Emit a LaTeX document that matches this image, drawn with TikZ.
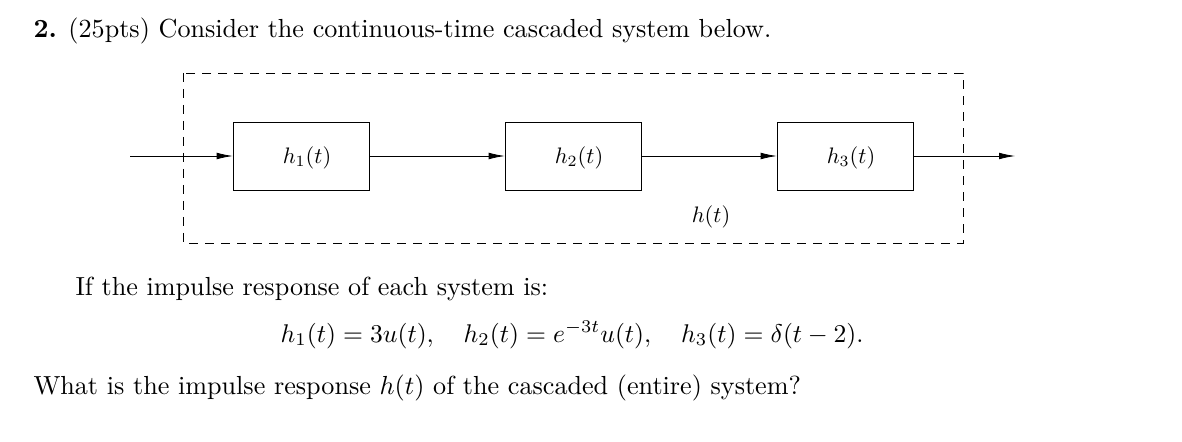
\documentclass[tikz,border=0pt]{standalone}
\usetikzlibrary{arrows.meta}
\begin{document}
\begin{tikzpicture}[x=0.75pt,y=-0.75pt,
  blk/.style={draw,minimum width=136*0.75pt,minimum height=68*0.75pt,inner sep=0pt},
  lbl/.style={inner sep=0pt,scale=1.68},
  txt/.style={anchor=base west,inner sep=0pt,scale=1.96},
  sig/.style={-{Latex[length=12pt,width=5pt]},line width=0.6pt}]
\useasboundingbox (0,0) rectangle (1182,442);
\node[txt] (title) at (33,38) {\textbf{2.} (25pts) Consider the continuous-time cascaded system below.};
\draw[dash pattern=on 7pt off 5pt,line width=0.6pt] (183,73) rectangle (963,243);
\node[blk] (b1) at (301,156) {};
\node[blk] (b2) at (573,156) {};
\node[blk] (b3) at (845,156) {};
\node[lbl] (l1) at (307,158) {$h_1(t)$};
\node[lbl] (l2) at (579,158) {$h_2(t)$};
\node[lbl] (l3) at (851,158) {$h_3(t)$};
\coordinate (in) at (130,156);
\coordinate (out) at (1015,156);
\draw[sig] (in) -- (b1);
\draw[sig] (b1) -- (b2);
\draw[sig] (b2) -- (b3);
\draw[sig] (b3) -- (out);
\node[lbl] (h) at (711,217) {$h(t)$};
\node[txt] (q1) at (75,296) {If the impulse response of each system is:};
\node[anchor=base,inner sep=0pt,scale=1.92] (eq) at (572,342) {$h_1(t)=3u(t),\quad h_2(t)=e^{-3t}u(t),\quad h_3(t)=\delta(t-2).$};
\node[txt] (q2) at (33,394) {What is the impulse response $h(t)$ of the cascaded (entire) system?};
\end{tikzpicture}
\end{document}
